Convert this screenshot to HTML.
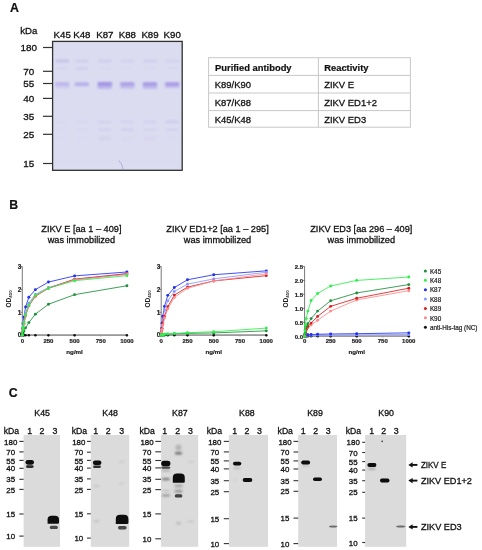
<!DOCTYPE html>
<html><head><meta charset="utf-8"><style>
html,body{margin:0;padding:0;background:#fff;}
body{width:482px;height:550px;overflow:hidden;}
svg{display:block;font-family:"Liberation Sans", sans-serif;filter:blur(0.25px);}
</style></head><body>
<svg width="482" height="550" viewBox="0 0 482 550">
<defs>
<filter id="b1" x="-50%" y="-200%" width="200%" height="500%"><feGaussianBlur stdDeviation="0.9"/></filter>
<filter id="b2" x="-50%" y="-200%" width="200%" height="500%"><feGaussianBlur stdDeviation="1.5"/></filter>
<filter id="b05" x="-50%" y="-200%" width="200%" height="500%"><feGaussianBlur stdDeviation="0.5"/></filter>
</defs>
<text x="10" y="11.8" font-size="12.3" font-weight="700" text-anchor="start" fill="#111" stroke="#111" stroke-width="0.2" >A</text>
<text x="20.3" y="33.6" font-size="9.6" font-weight="400" text-anchor="start" fill="#111" stroke="#111" stroke-width="0.3" >kDa</text>
<text x="28.7" y="51.0" font-size="9.9" font-weight="400" text-anchor="middle" fill="#111" stroke="#111" stroke-width="0.3" >180</text>
<line x1="43" y1="47.5" x2="52.5" y2="47.5" stroke="#333" stroke-width="1.2"/>
<text x="28.7" y="74.8" font-size="9.9" font-weight="400" text-anchor="middle" fill="#111" stroke="#111" stroke-width="0.3" >70</text>
<line x1="43" y1="71.3" x2="52.5" y2="71.3" stroke="#333" stroke-width="1.2"/>
<text x="28.7" y="87.0" font-size="9.9" font-weight="400" text-anchor="middle" fill="#111" stroke="#111" stroke-width="0.3" >55</text>
<line x1="43" y1="83.5" x2="52.5" y2="83.5" stroke="#333" stroke-width="1.2"/>
<text x="28.7" y="101.9" font-size="9.9" font-weight="400" text-anchor="middle" fill="#111" stroke="#111" stroke-width="0.3" >40</text>
<line x1="43" y1="98.4" x2="52.5" y2="98.4" stroke="#333" stroke-width="1.2"/>
<text x="28.7" y="119.8" font-size="9.9" font-weight="400" text-anchor="middle" fill="#111" stroke="#111" stroke-width="0.3" >35</text>
<line x1="43" y1="116.3" x2="52.5" y2="116.3" stroke="#333" stroke-width="1.2"/>
<text x="28.7" y="137.8" font-size="9.9" font-weight="400" text-anchor="middle" fill="#111" stroke="#111" stroke-width="0.3" >25</text>
<line x1="43" y1="134.3" x2="52.5" y2="134.3" stroke="#333" stroke-width="1.2"/>
<text x="28.7" y="167.0" font-size="9.9" font-weight="400" text-anchor="middle" fill="#111" stroke="#111" stroke-width="0.3" >15</text>
<line x1="43" y1="163.5" x2="52.5" y2="163.5" stroke="#333" stroke-width="1.2"/>
<rect x="52.6" y="41.4" width="129.6" height="128.9" fill="#dcdcf1" stroke="#303030" stroke-width="1.3" />
<text x="62.2" y="37.9" font-size="9.7" font-weight="400" text-anchor="middle" fill="#111" stroke="#111" stroke-width="0.3" >K45</text>
<text x="81.8" y="37.9" font-size="9.7" font-weight="400" text-anchor="middle" fill="#111" stroke="#111" stroke-width="0.3" >K48</text>
<text x="104.8" y="37.9" font-size="9.7" font-weight="400" text-anchor="middle" fill="#111" stroke="#111" stroke-width="0.3" >K87</text>
<text x="127.3" y="37.9" font-size="9.7" font-weight="400" text-anchor="middle" fill="#111" stroke="#111" stroke-width="0.3" >K88</text>
<text x="150.0" y="37.9" font-size="9.7" font-weight="400" text-anchor="middle" fill="#111" stroke="#111" stroke-width="0.3" >K89</text>
<text x="172.2" y="37.9" font-size="9.7" font-weight="400" text-anchor="middle" fill="#111" stroke="#111" stroke-width="0.3" >K90</text>
<rect x="55.00" y="82.00" width="14.4" height="6.4" rx="1" fill="#b2a8ea" fill-opacity="0.32000000000000006" filter="url(#b1)"/>
<rect x="55.30" y="82.40" width="13.8" height="3.2" rx="1" fill="#9282de" fill-opacity="0.30000000000000004" filter="url(#b1)"/>
<rect x="74.60" y="82.50" width="14.4" height="4.2" rx="1" fill="#b2a8ea" fill-opacity="0.4" filter="url(#b1)"/>
<rect x="74.90" y="82.40" width="13.8" height="3.2" rx="1" fill="#9282de" fill-opacity="0.375" filter="url(#b1)"/>
<rect x="97.60" y="82.10" width="14.4" height="7.0" rx="1" fill="#b2a8ea" fill-opacity="0.76" filter="url(#b1)"/>
<rect x="97.90" y="82.40" width="13.8" height="3.2" rx="1" fill="#9282de" fill-opacity="0.7124999999999999" filter="url(#b1)"/>
<rect x="120.10" y="82.40" width="14.4" height="6.4" rx="1" fill="#b2a8ea" fill-opacity="0.6000000000000001" filter="url(#b1)"/>
<rect x="120.40" y="82.40" width="13.8" height="3.2" rx="1" fill="#9282de" fill-opacity="0.5625" filter="url(#b1)"/>
<rect x="142.80" y="82.50" width="14.4" height="6.6" rx="1" fill="#b2a8ea" fill-opacity="0.68" filter="url(#b1)"/>
<rect x="143.10" y="82.40" width="13.8" height="3.2" rx="1" fill="#9282de" fill-opacity="0.6375" filter="url(#b1)"/>
<rect x="165.00" y="82.40" width="14.4" height="5.6" rx="1" fill="#b2a8ea" fill-opacity="0.6400000000000001" filter="url(#b1)"/>
<rect x="165.30" y="82.40" width="13.8" height="3.2" rx="1" fill="#9282de" fill-opacity="0.6000000000000001" filter="url(#b1)"/>
<rect x="55.45" y="59.20" width="13.5" height="3.6" rx="1" fill="#bab6e4" fill-opacity="0.6" filter="url(#b1)"/>
<rect x="55.95" y="67.20" width="12.5" height="2.4" rx="1" fill="#bcb8e6" fill-opacity="0.25" filter="url(#b1)"/>
<rect x="75.05" y="59.20" width="13.5" height="3.6" rx="1" fill="#bab6e4" fill-opacity="0.3" filter="url(#b1)"/>
<rect x="75.55" y="67.20" width="12.5" height="2.4" rx="1" fill="#bcb8e6" fill-opacity="0.45" filter="url(#b1)"/>
<rect x="98.05" y="59.20" width="13.5" height="3.6" rx="1" fill="#bab6e4" fill-opacity="0.35" filter="url(#b1)"/>
<rect x="98.55" y="67.20" width="12.5" height="2.4" rx="1" fill="#bcb8e6" fill-opacity="0.15" filter="url(#b1)"/>
<rect x="120.55" y="59.20" width="13.5" height="3.6" rx="1" fill="#bab6e4" fill-opacity="0.25" filter="url(#b1)"/>
<rect x="121.05" y="67.20" width="12.5" height="2.4" rx="1" fill="#bcb8e6" fill-opacity="0.12" filter="url(#b1)"/>
<rect x="143.25" y="59.20" width="13.5" height="3.6" rx="1" fill="#bab6e4" fill-opacity="0.3" filter="url(#b1)"/>
<rect x="143.75" y="67.20" width="12.5" height="2.4" rx="1" fill="#bcb8e6" fill-opacity="0.18" filter="url(#b1)"/>
<rect x="165.45" y="59.20" width="13.5" height="3.6" rx="1" fill="#bab6e4" fill-opacity="0.25" filter="url(#b1)"/>
<rect x="165.95" y="67.20" width="12.5" height="2.4" rx="1" fill="#bcb8e6" fill-opacity="0.2" filter="url(#b1)"/>
<rect x="55.45" y="120.20" width="13.5" height="3.2" rx="1" fill="#bcb8e6" fill-opacity="0.1" filter="url(#b1)"/>
<rect x="55.45" y="128.20" width="13.5" height="2.8" rx="1" fill="#bcb8e6" fill-opacity="0.1" filter="url(#b1)"/>
<rect x="55.95" y="136.00" width="12.5" height="5.0" rx="1" fill="#c4c0e8" fill-opacity="0.1" filter="url(#b2)"/>
<rect x="75.05" y="120.20" width="13.5" height="3.2" rx="1" fill="#bcb8e6" fill-opacity="0.15" filter="url(#b1)"/>
<rect x="75.05" y="128.20" width="13.5" height="2.8" rx="1" fill="#bcb8e6" fill-opacity="0.15" filter="url(#b1)"/>
<rect x="75.55" y="136.00" width="12.5" height="5.0" rx="1" fill="#c4c0e8" fill-opacity="0.08" filter="url(#b2)"/>
<rect x="98.05" y="120.20" width="13.5" height="3.2" rx="1" fill="#bcb8e6" fill-opacity="0.3" filter="url(#b1)"/>
<rect x="98.05" y="128.20" width="13.5" height="2.8" rx="1" fill="#bcb8e6" fill-opacity="0.28" filter="url(#b1)"/>
<rect x="98.55" y="136.00" width="12.5" height="5.0" rx="1" fill="#c4c0e8" fill-opacity="0.3" filter="url(#b2)"/>
<rect x="120.55" y="120.20" width="13.5" height="3.2" rx="1" fill="#bcb8e6" fill-opacity="0.22" filter="url(#b1)"/>
<rect x="120.55" y="128.20" width="13.5" height="2.8" rx="1" fill="#bcb8e6" fill-opacity="0.32" filter="url(#b1)"/>
<rect x="121.05" y="136.00" width="12.5" height="5.0" rx="1" fill="#c4c0e8" fill-opacity="0.12" filter="url(#b2)"/>
<rect x="143.25" y="120.20" width="13.5" height="3.2" rx="1" fill="#bcb8e6" fill-opacity="0.25" filter="url(#b1)"/>
<rect x="143.25" y="128.20" width="13.5" height="2.8" rx="1" fill="#bcb8e6" fill-opacity="0.25" filter="url(#b1)"/>
<rect x="143.75" y="136.00" width="12.5" height="5.0" rx="1" fill="#c4c0e8" fill-opacity="0.2" filter="url(#b2)"/>
<rect x="165.45" y="120.20" width="13.5" height="3.2" rx="1" fill="#bcb8e6" fill-opacity="0.38" filter="url(#b1)"/>
<rect x="165.45" y="128.20" width="13.5" height="2.8" rx="1" fill="#bcb8e6" fill-opacity="0.25" filter="url(#b1)"/>
<rect x="165.95" y="136.00" width="12.5" height="5.0" rx="1" fill="#c4c0e8" fill-opacity="0.08" filter="url(#b2)"/>
<rect x="53.00" y="159.80" width="128" height="1.2" rx="1" fill="#c8c6e8" fill-opacity="0.15" filter="url(#b05)"/>
<path d="M118.8 160.6 Q122 163 123 169" stroke="#7068c0" stroke-width="0.9" fill="none" stroke-opacity="0.45"/>
<rect x="208.6" y="57.7" width="201.79999999999998" height="69.5" fill="none" stroke="#c8c8c8" stroke-width="1" />
<line x1="208.6" y1="75.4" x2="410.4" y2="75.4" stroke="#c8c8c8" stroke-width="1"/>
<line x1="208.6" y1="93.0" x2="410.4" y2="93.0" stroke="#c8c8c8" stroke-width="1"/>
<line x1="208.6" y1="110.6" x2="410.4" y2="110.6" stroke="#c8c8c8" stroke-width="1"/>
<line x1="318.4" y1="57.7" x2="318.4" y2="127.2" stroke="#c8c8c8" stroke-width="1"/>
<text x="215" y="71.3" font-size="9.4" font-weight="700" text-anchor="start" fill="#111" stroke="#111" stroke-width="0.2" >Purified antibody</text>
<text x="324.2" y="71.3" font-size="9.4" font-weight="700" text-anchor="start" fill="#111" stroke="#111" stroke-width="0.2" >Reactivity</text>
<text x="214.8" y="88.10000000000001" font-size="9.45" font-weight="400" text-anchor="start" fill="#111" stroke="#111" stroke-width="0.3" >K89/K90</text>
<text x="324.2" y="88.10000000000001" font-size="9.45" font-weight="400" text-anchor="start" fill="#111" stroke="#111" stroke-width="0.3" >ZIKV E</text>
<text x="214.8" y="105.7" font-size="9.45" font-weight="400" text-anchor="start" fill="#111" stroke="#111" stroke-width="0.3" >K87/K88</text>
<text x="324.2" y="105.7" font-size="9.45" font-weight="400" text-anchor="start" fill="#111" stroke="#111" stroke-width="0.3" >ZIKV ED1+2</text>
<text x="214.8" y="123.3" font-size="9.45" font-weight="400" text-anchor="start" fill="#111" stroke="#111" stroke-width="0.3" >K45/K48</text>
<text x="324.2" y="123.3" font-size="9.45" font-weight="400" text-anchor="start" fill="#111" stroke="#111" stroke-width="0.3" >ZIKV ED3</text>
<text x="9.3" y="208.6" font-size="12.3" font-weight="700" text-anchor="start" fill="#111" stroke="#111" stroke-width="0.2" >B</text>
<text x="81.4" y="231.9" font-size="9.2" font-weight="400" text-anchor="middle" fill="#111" stroke="#111" stroke-width="0.3" >ZIKV E [aa 1 – 409]</text>
<text x="81.4" y="243.2" font-size="9.2" font-weight="400" text-anchor="middle" fill="#111" stroke="#111" stroke-width="0.3" >was immobilized</text>
<text x="217.5" y="231.9" font-size="9.2" font-weight="400" text-anchor="middle" fill="#111" stroke="#111" stroke-width="0.3" >ZIKV ED1+2 [aa 1 – 295]</text>
<text x="217.5" y="243.2" font-size="9.2" font-weight="400" text-anchor="middle" fill="#111" stroke="#111" stroke-width="0.3" >was immobilized</text>
<text x="361.3" y="231.9" font-size="9.2" font-weight="400" text-anchor="middle" fill="#111" stroke="#111" stroke-width="0.3" >ZIKV ED3 [aa 296 – 409]</text>
<text x="361.3" y="243.2" font-size="9.2" font-weight="400" text-anchor="middle" fill="#111" stroke="#111" stroke-width="0.3" >was immobilized</text>
<line x1="22.3" y1="266.5" x2="22.3" y2="335.2" stroke="#777" stroke-width="1"/>
<line x1="22.3" y1="335.2" x2="126.9" y2="335.2" stroke="#888" stroke-width="1.3"/>
<line x1="20.8" y1="335.2" x2="22.3" y2="335.2" stroke="#555" stroke-width="0.8"/>
<text x="21.3" y="337.4" font-size="6.4" font-weight="700" text-anchor="end" fill="#222" stroke="#222" stroke-width="0.2" >0</text>
<line x1="20.8" y1="312.3" x2="22.3" y2="312.3" stroke="#555" stroke-width="0.8"/>
<text x="21.3" y="314.5" font-size="6.4" font-weight="700" text-anchor="end" fill="#222" stroke="#222" stroke-width="0.2" >1</text>
<line x1="20.8" y1="289.4" x2="22.3" y2="289.4" stroke="#555" stroke-width="0.8"/>
<text x="21.3" y="291.59999999999997" font-size="6.4" font-weight="700" text-anchor="end" fill="#222" stroke="#222" stroke-width="0.2" >2</text>
<line x1="20.8" y1="266.5" x2="22.3" y2="266.5" stroke="#555" stroke-width="0.8"/>
<text x="21.3" y="268.7" font-size="6.4" font-weight="700" text-anchor="end" fill="#222" stroke="#222" stroke-width="0.2" >3</text>
<line x1="22.3" y1="335.2" x2="22.3" y2="336.4" stroke="#555" stroke-width="0.8"/>
<text x="22.3" y="343.2" font-size="6" font-weight="700" text-anchor="middle" fill="#222" stroke="#222" stroke-width="0.2" >0</text>
<line x1="48.45" y1="335.2" x2="48.45" y2="336.4" stroke="#555" stroke-width="0.8"/>
<text x="48.45" y="343.2" font-size="6" font-weight="700" text-anchor="middle" fill="#222" stroke="#222" stroke-width="0.2" >250</text>
<line x1="74.60000000000001" y1="335.2" x2="74.60000000000001" y2="336.4" stroke="#555" stroke-width="0.8"/>
<text x="74.60000000000001" y="343.2" font-size="6" font-weight="700" text-anchor="middle" fill="#222" stroke="#222" stroke-width="0.2" >500</text>
<line x1="100.75" y1="335.2" x2="100.75" y2="336.4" stroke="#555" stroke-width="0.8"/>
<text x="100.75" y="343.2" font-size="6" font-weight="700" text-anchor="middle" fill="#222" stroke="#222" stroke-width="0.2" >750</text>
<line x1="126.9" y1="335.2" x2="126.9" y2="336.4" stroke="#555" stroke-width="0.8"/>
<text x="126.9" y="343.2" font-size="6" font-weight="700" text-anchor="middle" fill="#222" stroke="#222" stroke-width="0.2" >1000</text>
<text x="74.60000000000001" y="353.6" font-size="6.2" font-weight="700" text-anchor="middle" fill="#222" stroke="#222" stroke-width="0.2" >ng/ml</text>
<text transform="translate(11.20,299) rotate(-90)" font-size="6.6" font-weight="700" text-anchor="middle" fill="#222">OD<tspan font-size="4.4" dy="1.2">450</tspan></text>
<polyline points="22.30,335.20 22.71,335.20 23.12,335.20 23.93,335.20 25.57,335.20 28.84,335.20 35.38,335.20 48.45,335.20 74.60,335.20 126.90,335.20" fill="none" stroke="#999" stroke-width="1.3"/>
<circle cx="22.30" cy="335.20" r="1.25" fill="#111111"/>
<circle cx="22.71" cy="335.20" r="1.25" fill="#111111"/>
<circle cx="23.12" cy="335.20" r="1.25" fill="#111111"/>
<circle cx="23.93" cy="335.20" r="1.25" fill="#111111"/>
<circle cx="25.57" cy="335.20" r="1.25" fill="#111111"/>
<circle cx="28.84" cy="335.20" r="1.25" fill="#111111"/>
<circle cx="35.38" cy="335.20" r="1.25" fill="#111111"/>
<circle cx="48.45" cy="335.20" r="1.25" fill="#111111"/>
<circle cx="74.60" cy="335.20" r="1.25" fill="#111111"/>
<circle cx="126.90" cy="335.20" r="1.25" fill="#111111"/>
<polyline points="22.30,335.20 22.71,328.33 23.12,323.29 23.93,317.11 25.57,307.03 28.84,297.19 35.38,289.63 48.45,282.07 74.60,275.89 126.90,272.00" fill="none" stroke="#2030f0" stroke-width="0.85"/>
<circle cx="22.30" cy="335.20" r="1.45" fill="#2030f0"/>
<circle cx="22.71" cy="328.33" r="1.45" fill="#2030f0"/>
<circle cx="23.12" cy="323.29" r="1.45" fill="#2030f0"/>
<circle cx="23.93" cy="317.11" r="1.45" fill="#2030f0"/>
<circle cx="25.57" cy="307.03" r="1.45" fill="#2030f0"/>
<circle cx="28.84" cy="297.19" r="1.45" fill="#2030f0"/>
<circle cx="35.38" cy="289.63" r="1.45" fill="#2030f0"/>
<circle cx="48.45" cy="282.07" r="1.45" fill="#2030f0"/>
<circle cx="74.60" cy="275.89" r="1.45" fill="#2030f0"/>
<circle cx="126.90" cy="272.00" r="1.45" fill="#2030f0"/>
<polyline points="22.30,335.20 22.71,330.62 23.12,326.04 23.93,321.46 25.57,313.44 28.84,303.14 35.38,294.44 48.45,287.57 74.60,279.78 126.90,273.37" fill="none" stroke="#8a96ff" stroke-width="0.85"/>
<circle cx="22.30" cy="335.20" r="1.45" fill="#8a96ff"/>
<circle cx="22.71" cy="330.62" r="1.45" fill="#8a96ff"/>
<circle cx="23.12" cy="326.04" r="1.45" fill="#8a96ff"/>
<circle cx="23.93" cy="321.46" r="1.45" fill="#8a96ff"/>
<circle cx="25.57" cy="313.44" r="1.45" fill="#8a96ff"/>
<circle cx="28.84" cy="303.14" r="1.45" fill="#8a96ff"/>
<circle cx="35.38" cy="294.44" r="1.45" fill="#8a96ff"/>
<circle cx="48.45" cy="287.57" r="1.45" fill="#8a96ff"/>
<circle cx="74.60" cy="279.78" r="1.45" fill="#8a96ff"/>
<circle cx="126.90" cy="273.37" r="1.45" fill="#8a96ff"/>
<polyline points="22.30,335.20 22.71,331.76 23.12,328.33 23.93,323.75 25.57,315.74 28.84,305.89 35.38,296.27 48.45,288.25 74.60,279.09 126.90,273.83" fill="none" stroke="#d81e1e" stroke-width="0.85"/>
<circle cx="22.30" cy="335.20" r="1.45" fill="#d81e1e"/>
<circle cx="22.71" cy="331.76" r="1.45" fill="#d81e1e"/>
<circle cx="23.12" cy="328.33" r="1.45" fill="#d81e1e"/>
<circle cx="23.93" cy="323.75" r="1.45" fill="#d81e1e"/>
<circle cx="25.57" cy="315.74" r="1.45" fill="#d81e1e"/>
<circle cx="28.84" cy="305.89" r="1.45" fill="#d81e1e"/>
<circle cx="35.38" cy="296.27" r="1.45" fill="#d81e1e"/>
<circle cx="48.45" cy="288.25" r="1.45" fill="#d81e1e"/>
<circle cx="74.60" cy="279.09" r="1.45" fill="#d81e1e"/>
<circle cx="126.90" cy="273.83" r="1.45" fill="#d81e1e"/>
<polyline points="22.30,335.20 22.71,331.76 23.12,328.33 23.93,323.75 25.57,315.74 28.84,305.43 35.38,295.81 48.45,288.25 74.60,279.78 126.90,274.51" fill="none" stroke="#ff8a8a" stroke-width="0.85"/>
<circle cx="22.30" cy="335.20" r="1.45" fill="#ff8a8a"/>
<circle cx="22.71" cy="331.76" r="1.45" fill="#ff8a8a"/>
<circle cx="23.12" cy="328.33" r="1.45" fill="#ff8a8a"/>
<circle cx="23.93" cy="323.75" r="1.45" fill="#ff8a8a"/>
<circle cx="25.57" cy="315.74" r="1.45" fill="#ff8a8a"/>
<circle cx="28.84" cy="305.43" r="1.45" fill="#ff8a8a"/>
<circle cx="35.38" cy="295.81" r="1.45" fill="#ff8a8a"/>
<circle cx="48.45" cy="288.25" r="1.45" fill="#ff8a8a"/>
<circle cx="74.60" cy="279.78" r="1.45" fill="#ff8a8a"/>
<circle cx="126.90" cy="274.51" r="1.45" fill="#ff8a8a"/>
<polyline points="22.30,335.20 22.71,334.06 23.12,332.91 23.93,331.08 25.57,327.87 28.84,322.60 35.38,314.13 48.45,304.28 74.60,294.67 126.90,285.74" fill="none" stroke="#1e8f3a" stroke-width="0.85"/>
<circle cx="22.30" cy="335.20" r="1.45" fill="#1e8f3a"/>
<circle cx="22.71" cy="334.06" r="1.45" fill="#1e8f3a"/>
<circle cx="23.12" cy="332.91" r="1.45" fill="#1e8f3a"/>
<circle cx="23.93" cy="331.08" r="1.45" fill="#1e8f3a"/>
<circle cx="25.57" cy="327.87" r="1.45" fill="#1e8f3a"/>
<circle cx="28.84" cy="322.60" r="1.45" fill="#1e8f3a"/>
<circle cx="35.38" cy="314.13" r="1.45" fill="#1e8f3a"/>
<circle cx="48.45" cy="304.28" r="1.45" fill="#1e8f3a"/>
<circle cx="74.60" cy="294.67" r="1.45" fill="#1e8f3a"/>
<circle cx="126.90" cy="285.74" r="1.45" fill="#1e8f3a"/>
<polyline points="22.30,335.20 22.71,330.62 23.12,327.19 23.93,322.60 25.57,314.59 28.84,304.97 35.38,295.12 48.45,288.25 74.60,280.70 126.90,275.66" fill="none" stroke="#2cf04c" stroke-width="0.85"/>
<circle cx="22.30" cy="335.20" r="1.45" fill="#2cf04c"/>
<circle cx="22.71" cy="330.62" r="1.45" fill="#2cf04c"/>
<circle cx="23.12" cy="327.19" r="1.45" fill="#2cf04c"/>
<circle cx="23.93" cy="322.60" r="1.45" fill="#2cf04c"/>
<circle cx="25.57" cy="314.59" r="1.45" fill="#2cf04c"/>
<circle cx="28.84" cy="304.97" r="1.45" fill="#2cf04c"/>
<circle cx="35.38" cy="295.12" r="1.45" fill="#2cf04c"/>
<circle cx="48.45" cy="288.25" r="1.45" fill="#2cf04c"/>
<circle cx="74.60" cy="280.70" r="1.45" fill="#2cf04c"/>
<circle cx="126.90" cy="275.66" r="1.45" fill="#2cf04c"/>
<line x1="161.2" y1="266.5" x2="161.2" y2="335.2" stroke="#777" stroke-width="1"/>
<line x1="161.2" y1="335.2" x2="266.3" y2="335.2" stroke="#888" stroke-width="1.3"/>
<line x1="159.7" y1="335.2" x2="161.2" y2="335.2" stroke="#555" stroke-width="0.8"/>
<text x="160.2" y="337.4" font-size="6.4" font-weight="700" text-anchor="end" fill="#222" stroke="#222" stroke-width="0.2" >0</text>
<line x1="159.7" y1="312.3" x2="161.2" y2="312.3" stroke="#555" stroke-width="0.8"/>
<text x="160.2" y="314.5" font-size="6.4" font-weight="700" text-anchor="end" fill="#222" stroke="#222" stroke-width="0.2" >1</text>
<line x1="159.7" y1="289.4" x2="161.2" y2="289.4" stroke="#555" stroke-width="0.8"/>
<text x="160.2" y="291.59999999999997" font-size="6.4" font-weight="700" text-anchor="end" fill="#222" stroke="#222" stroke-width="0.2" >2</text>
<line x1="159.7" y1="266.5" x2="161.2" y2="266.5" stroke="#555" stroke-width="0.8"/>
<text x="160.2" y="268.7" font-size="6.4" font-weight="700" text-anchor="end" fill="#222" stroke="#222" stroke-width="0.2" >3</text>
<line x1="161.2" y1="335.2" x2="161.2" y2="336.4" stroke="#555" stroke-width="0.8"/>
<text x="161.2" y="343.2" font-size="6" font-weight="700" text-anchor="middle" fill="#222" stroke="#222" stroke-width="0.2" >0</text>
<line x1="187.475" y1="335.2" x2="187.475" y2="336.4" stroke="#555" stroke-width="0.8"/>
<text x="187.475" y="343.2" font-size="6" font-weight="700" text-anchor="middle" fill="#222" stroke="#222" stroke-width="0.2" >250</text>
<line x1="213.75" y1="335.2" x2="213.75" y2="336.4" stroke="#555" stroke-width="0.8"/>
<text x="213.75" y="343.2" font-size="6" font-weight="700" text-anchor="middle" fill="#222" stroke="#222" stroke-width="0.2" >500</text>
<line x1="240.025" y1="335.2" x2="240.025" y2="336.4" stroke="#555" stroke-width="0.8"/>
<text x="240.025" y="343.2" font-size="6" font-weight="700" text-anchor="middle" fill="#222" stroke="#222" stroke-width="0.2" >750</text>
<line x1="266.3" y1="335.2" x2="266.3" y2="336.4" stroke="#555" stroke-width="0.8"/>
<text x="266.3" y="343.2" font-size="6" font-weight="700" text-anchor="middle" fill="#222" stroke="#222" stroke-width="0.2" >1000</text>
<text x="213.75" y="353.6" font-size="6.2" font-weight="700" text-anchor="middle" fill="#222" stroke="#222" stroke-width="0.2" >ng/ml</text>
<text transform="translate(150.10,299) rotate(-90)" font-size="6.6" font-weight="700" text-anchor="middle" fill="#222">OD<tspan font-size="4.4" dy="1.2">450</tspan></text>
<polyline points="161.20,335.20 161.61,335.20 162.02,335.20 162.84,335.20 164.48,335.20 167.77,335.20 174.34,335.20 187.47,335.20 213.75,335.20 266.30,335.20" fill="none" stroke="#999" stroke-width="1.3"/>
<circle cx="161.20" cy="335.20" r="1.25" fill="#111111"/>
<circle cx="161.61" cy="335.20" r="1.25" fill="#111111"/>
<circle cx="162.02" cy="335.20" r="1.25" fill="#111111"/>
<circle cx="162.84" cy="335.20" r="1.25" fill="#111111"/>
<circle cx="164.48" cy="335.20" r="1.25" fill="#111111"/>
<circle cx="167.77" cy="335.20" r="1.25" fill="#111111"/>
<circle cx="174.34" cy="335.20" r="1.25" fill="#111111"/>
<circle cx="187.47" cy="335.20" r="1.25" fill="#111111"/>
<circle cx="213.75" cy="335.20" r="1.25" fill="#111111"/>
<circle cx="266.30" cy="335.20" r="1.25" fill="#111111"/>
<polyline points="161.20,335.20 161.61,328.33 162.02,323.29 162.84,316.19 164.48,306.35 167.77,295.35 174.34,287.57 187.47,279.78 213.75,274.74 266.30,270.85" fill="none" stroke="#2030f0" stroke-width="0.85"/>
<circle cx="161.20" cy="335.20" r="1.45" fill="#2030f0"/>
<circle cx="161.61" cy="328.33" r="1.45" fill="#2030f0"/>
<circle cx="162.02" cy="323.29" r="1.45" fill="#2030f0"/>
<circle cx="162.84" cy="316.19" r="1.45" fill="#2030f0"/>
<circle cx="164.48" cy="306.35" r="1.45" fill="#2030f0"/>
<circle cx="167.77" cy="295.35" r="1.45" fill="#2030f0"/>
<circle cx="174.34" cy="287.57" r="1.45" fill="#2030f0"/>
<circle cx="187.47" cy="279.78" r="1.45" fill="#2030f0"/>
<circle cx="213.75" cy="274.74" r="1.45" fill="#2030f0"/>
<circle cx="266.30" cy="270.85" r="1.45" fill="#2030f0"/>
<polyline points="161.20,335.20 161.61,330.62 162.02,326.04 162.84,320.31 164.48,310.01 167.77,300.85 174.34,291.46 187.47,284.13 213.75,278.87 266.30,272.23" fill="none" stroke="#8a96ff" stroke-width="0.85"/>
<circle cx="161.20" cy="335.20" r="1.45" fill="#8a96ff"/>
<circle cx="161.61" cy="330.62" r="1.45" fill="#8a96ff"/>
<circle cx="162.02" cy="326.04" r="1.45" fill="#8a96ff"/>
<circle cx="162.84" cy="320.31" r="1.45" fill="#8a96ff"/>
<circle cx="164.48" cy="310.01" r="1.45" fill="#8a96ff"/>
<circle cx="167.77" cy="300.85" r="1.45" fill="#8a96ff"/>
<circle cx="174.34" cy="291.46" r="1.45" fill="#8a96ff"/>
<circle cx="187.47" cy="284.13" r="1.45" fill="#8a96ff"/>
<circle cx="213.75" cy="278.87" r="1.45" fill="#8a96ff"/>
<circle cx="266.30" cy="272.23" r="1.45" fill="#8a96ff"/>
<polyline points="161.20,335.20 161.61,331.76 162.02,328.33 162.84,322.83 164.48,316.19 167.77,306.80 174.34,295.12 187.47,287.11 213.75,280.93 266.30,275.66" fill="none" stroke="#d81e1e" stroke-width="0.85"/>
<circle cx="161.20" cy="335.20" r="1.45" fill="#d81e1e"/>
<circle cx="161.61" cy="331.76" r="1.45" fill="#d81e1e"/>
<circle cx="162.02" cy="328.33" r="1.45" fill="#d81e1e"/>
<circle cx="162.84" cy="322.83" r="1.45" fill="#d81e1e"/>
<circle cx="164.48" cy="316.19" r="1.45" fill="#d81e1e"/>
<circle cx="167.77" cy="306.80" r="1.45" fill="#d81e1e"/>
<circle cx="174.34" cy="295.12" r="1.45" fill="#d81e1e"/>
<circle cx="187.47" cy="287.11" r="1.45" fill="#d81e1e"/>
<circle cx="213.75" cy="280.93" r="1.45" fill="#d81e1e"/>
<circle cx="266.30" cy="275.66" r="1.45" fill="#d81e1e"/>
<polyline points="161.20,335.20 161.61,332.45 162.02,329.47 162.84,324.89 164.48,318.02 167.77,308.87 174.34,297.41 187.47,288.25 213.75,280.93 266.30,273.83" fill="none" stroke="#ff8a8a" stroke-width="0.85"/>
<circle cx="161.20" cy="335.20" r="1.45" fill="#ff8a8a"/>
<circle cx="161.61" cy="332.45" r="1.45" fill="#ff8a8a"/>
<circle cx="162.02" cy="329.47" r="1.45" fill="#ff8a8a"/>
<circle cx="162.84" cy="324.89" r="1.45" fill="#ff8a8a"/>
<circle cx="164.48" cy="318.02" r="1.45" fill="#ff8a8a"/>
<circle cx="167.77" cy="308.87" r="1.45" fill="#ff8a8a"/>
<circle cx="174.34" cy="297.41" r="1.45" fill="#ff8a8a"/>
<circle cx="187.47" cy="288.25" r="1.45" fill="#ff8a8a"/>
<circle cx="213.75" cy="280.93" r="1.45" fill="#ff8a8a"/>
<circle cx="266.30" cy="273.83" r="1.45" fill="#ff8a8a"/>
<polyline points="161.20,335.20 161.61,335.20 162.02,334.97 162.84,334.74 164.48,334.51 167.77,334.28 174.34,333.83 187.47,333.37 213.75,332.91 266.30,330.85" fill="none" stroke="#1e8f3a" stroke-width="0.85"/>
<circle cx="161.20" cy="335.20" r="1.45" fill="#1e8f3a"/>
<circle cx="161.61" cy="335.20" r="1.45" fill="#1e8f3a"/>
<circle cx="162.02" cy="334.97" r="1.45" fill="#1e8f3a"/>
<circle cx="162.84" cy="334.74" r="1.45" fill="#1e8f3a"/>
<circle cx="164.48" cy="334.51" r="1.45" fill="#1e8f3a"/>
<circle cx="167.77" cy="334.28" r="1.45" fill="#1e8f3a"/>
<circle cx="174.34" cy="333.83" r="1.45" fill="#1e8f3a"/>
<circle cx="187.47" cy="333.37" r="1.45" fill="#1e8f3a"/>
<circle cx="213.75" cy="332.91" r="1.45" fill="#1e8f3a"/>
<circle cx="266.30" cy="330.85" r="1.45" fill="#1e8f3a"/>
<polyline points="161.20,335.20 161.61,335.20 162.02,334.97 162.84,334.74 164.48,334.28 167.77,333.83 174.34,333.37 187.47,332.68 213.75,331.76 266.30,328.10" fill="none" stroke="#2cf04c" stroke-width="0.85"/>
<circle cx="161.20" cy="335.20" r="1.45" fill="#2cf04c"/>
<circle cx="161.61" cy="335.20" r="1.45" fill="#2cf04c"/>
<circle cx="162.02" cy="334.97" r="1.45" fill="#2cf04c"/>
<circle cx="162.84" cy="334.74" r="1.45" fill="#2cf04c"/>
<circle cx="164.48" cy="334.28" r="1.45" fill="#2cf04c"/>
<circle cx="167.77" cy="333.83" r="1.45" fill="#2cf04c"/>
<circle cx="174.34" cy="333.37" r="1.45" fill="#2cf04c"/>
<circle cx="187.47" cy="332.68" r="1.45" fill="#2cf04c"/>
<circle cx="213.75" cy="331.76" r="1.45" fill="#2cf04c"/>
<circle cx="266.30" cy="328.10" r="1.45" fill="#2cf04c"/>
<line x1="304.6" y1="266.45" x2="304.6" y2="336.2" stroke="#777" stroke-width="1"/>
<line x1="304.6" y1="336.2" x2="408.8" y2="336.2" stroke="#888" stroke-width="1.3"/>
<line x1="303.1" y1="336.2" x2="304.6" y2="336.2" stroke="#555" stroke-width="0.8"/>
<text x="303.0" y="338.7" font-size="6.0" font-weight="700" text-anchor="end" fill="#222" stroke="#222" stroke-width="0.2" >0.0</text>
<line x1="303.1" y1="322.25" x2="304.6" y2="322.25" stroke="#555" stroke-width="0.8"/>
<text x="303.0" y="324.75" font-size="6.0" font-weight="700" text-anchor="end" fill="#222" stroke="#222" stroke-width="0.2" >0.5</text>
<line x1="303.1" y1="308.3" x2="304.6" y2="308.3" stroke="#555" stroke-width="0.8"/>
<text x="303.0" y="310.8" font-size="6.0" font-weight="700" text-anchor="end" fill="#222" stroke="#222" stroke-width="0.2" >1.0</text>
<line x1="303.1" y1="294.35" x2="304.6" y2="294.35" stroke="#555" stroke-width="0.8"/>
<text x="303.0" y="296.85" font-size="6.0" font-weight="700" text-anchor="end" fill="#222" stroke="#222" stroke-width="0.2" >1.5</text>
<line x1="303.1" y1="280.4" x2="304.6" y2="280.4" stroke="#555" stroke-width="0.8"/>
<text x="303.0" y="282.9" font-size="6.0" font-weight="700" text-anchor="end" fill="#222" stroke="#222" stroke-width="0.2" >2.0</text>
<line x1="303.1" y1="266.45" x2="304.6" y2="266.45" stroke="#555" stroke-width="0.8"/>
<text x="303.0" y="268.95" font-size="6.0" font-weight="700" text-anchor="end" fill="#222" stroke="#222" stroke-width="0.2" >2.5</text>
<line x1="304.6" y1="336.2" x2="304.6" y2="337.4" stroke="#555" stroke-width="0.8"/>
<text x="304.6" y="343.2" font-size="6" font-weight="700" text-anchor="middle" fill="#222" stroke="#222" stroke-width="0.2" >0</text>
<line x1="330.65000000000003" y1="336.2" x2="330.65000000000003" y2="337.4" stroke="#555" stroke-width="0.8"/>
<text x="330.65000000000003" y="343.2" font-size="6" font-weight="700" text-anchor="middle" fill="#222" stroke="#222" stroke-width="0.2" >250</text>
<line x1="356.70000000000005" y1="336.2" x2="356.70000000000005" y2="337.4" stroke="#555" stroke-width="0.8"/>
<text x="356.70000000000005" y="343.2" font-size="6" font-weight="700" text-anchor="middle" fill="#222" stroke="#222" stroke-width="0.2" >500</text>
<line x1="382.75" y1="336.2" x2="382.75" y2="337.4" stroke="#555" stroke-width="0.8"/>
<text x="382.75" y="343.2" font-size="6" font-weight="700" text-anchor="middle" fill="#222" stroke="#222" stroke-width="0.2" >750</text>
<line x1="408.8" y1="336.2" x2="408.8" y2="337.4" stroke="#555" stroke-width="0.8"/>
<text x="408.8" y="343.2" font-size="6" font-weight="700" text-anchor="middle" fill="#222" stroke="#222" stroke-width="0.2" >1000</text>
<text x="356.70000000000005" y="353.6" font-size="6.2" font-weight="700" text-anchor="middle" fill="#222" stroke="#222" stroke-width="0.2" >ng/ml</text>
<text transform="translate(288.20,299) rotate(-90)" font-size="6.6" font-weight="700" text-anchor="middle" fill="#222">OD<tspan font-size="4.4" dy="1.2">450</tspan></text>
<polyline points="304.60,336.20 305.01,336.20 305.41,336.20 306.23,336.20 307.86,336.20 311.11,336.20 317.62,336.20 330.65,336.20 356.70,336.20 408.80,336.20" fill="none" stroke="#999" stroke-width="1.3"/>
<circle cx="304.60" cy="336.20" r="1.25" fill="#111111"/>
<circle cx="305.01" cy="336.20" r="1.25" fill="#111111"/>
<circle cx="305.41" cy="336.20" r="1.25" fill="#111111"/>
<circle cx="306.23" cy="336.20" r="1.25" fill="#111111"/>
<circle cx="307.86" cy="336.20" r="1.25" fill="#111111"/>
<circle cx="311.11" cy="336.20" r="1.25" fill="#111111"/>
<circle cx="317.62" cy="336.20" r="1.25" fill="#111111"/>
<circle cx="330.65" cy="336.20" r="1.25" fill="#111111"/>
<circle cx="356.70" cy="336.20" r="1.25" fill="#111111"/>
<circle cx="408.80" cy="336.20" r="1.25" fill="#111111"/>
<polyline points="304.60,335.64 305.01,335.64 305.41,335.64 306.23,335.36 307.86,335.36 311.11,335.36 317.62,335.08 330.65,335.08 356.70,334.81 408.80,334.53" fill="none" stroke="#8a96ff" stroke-width="0.85"/>
<circle cx="304.60" cy="335.64" r="1.45" fill="#8a96ff"/>
<circle cx="305.01" cy="335.64" r="1.45" fill="#8a96ff"/>
<circle cx="305.41" cy="335.64" r="1.45" fill="#8a96ff"/>
<circle cx="306.23" cy="335.36" r="1.45" fill="#8a96ff"/>
<circle cx="307.86" cy="335.36" r="1.45" fill="#8a96ff"/>
<circle cx="311.11" cy="335.36" r="1.45" fill="#8a96ff"/>
<circle cx="317.62" cy="335.08" r="1.45" fill="#8a96ff"/>
<circle cx="330.65" cy="335.08" r="1.45" fill="#8a96ff"/>
<circle cx="356.70" cy="334.81" r="1.45" fill="#8a96ff"/>
<circle cx="408.80" cy="334.53" r="1.45" fill="#8a96ff"/>
<polyline points="304.60,335.36 305.01,335.08 305.41,335.08 306.23,334.81 307.86,334.81 311.11,334.53 317.62,334.25 330.65,333.97 356.70,333.69 408.80,332.85" fill="none" stroke="#2030f0" stroke-width="0.85"/>
<circle cx="304.60" cy="335.36" r="1.45" fill="#2030f0"/>
<circle cx="305.01" cy="335.08" r="1.45" fill="#2030f0"/>
<circle cx="305.41" cy="335.08" r="1.45" fill="#2030f0"/>
<circle cx="306.23" cy="334.81" r="1.45" fill="#2030f0"/>
<circle cx="307.86" cy="334.81" r="1.45" fill="#2030f0"/>
<circle cx="311.11" cy="334.53" r="1.45" fill="#2030f0"/>
<circle cx="317.62" cy="334.25" r="1.45" fill="#2030f0"/>
<circle cx="330.65" cy="333.97" r="1.45" fill="#2030f0"/>
<circle cx="356.70" cy="333.69" r="1.45" fill="#2030f0"/>
<circle cx="408.80" cy="332.85" r="1.45" fill="#2030f0"/>
<polyline points="304.60,336.20 305.01,334.81 305.41,333.41 306.23,330.62 307.86,327.83 311.11,325.04 317.62,320.30 330.65,311.09 356.70,299.93 408.80,290.72" fill="none" stroke="#ff8a8a" stroke-width="0.85"/>
<circle cx="304.60" cy="336.20" r="1.45" fill="#ff8a8a"/>
<circle cx="305.01" cy="334.81" r="1.45" fill="#ff8a8a"/>
<circle cx="305.41" cy="333.41" r="1.45" fill="#ff8a8a"/>
<circle cx="306.23" cy="330.62" r="1.45" fill="#ff8a8a"/>
<circle cx="307.86" cy="327.83" r="1.45" fill="#ff8a8a"/>
<circle cx="311.11" cy="325.04" r="1.45" fill="#ff8a8a"/>
<circle cx="317.62" cy="320.30" r="1.45" fill="#ff8a8a"/>
<circle cx="330.65" cy="311.09" r="1.45" fill="#ff8a8a"/>
<circle cx="356.70" cy="299.93" r="1.45" fill="#ff8a8a"/>
<circle cx="408.80" cy="290.72" r="1.45" fill="#ff8a8a"/>
<polyline points="304.60,336.20 305.01,334.53 305.41,332.85 306.23,329.22 307.86,326.44 311.11,323.09 317.62,316.39 330.65,306.35 356.70,298.26 408.80,288.21" fill="none" stroke="#d81e1e" stroke-width="0.85"/>
<circle cx="304.60" cy="336.20" r="1.45" fill="#d81e1e"/>
<circle cx="305.01" cy="334.53" r="1.45" fill="#d81e1e"/>
<circle cx="305.41" cy="332.85" r="1.45" fill="#d81e1e"/>
<circle cx="306.23" cy="329.22" r="1.45" fill="#d81e1e"/>
<circle cx="307.86" cy="326.44" r="1.45" fill="#d81e1e"/>
<circle cx="311.11" cy="323.09" r="1.45" fill="#d81e1e"/>
<circle cx="317.62" cy="316.39" r="1.45" fill="#d81e1e"/>
<circle cx="330.65" cy="306.35" r="1.45" fill="#d81e1e"/>
<circle cx="356.70" cy="298.26" r="1.45" fill="#d81e1e"/>
<circle cx="408.80" cy="288.21" r="1.45" fill="#d81e1e"/>
<polyline points="304.60,336.20 305.01,333.41 305.41,330.62 306.23,326.44 307.86,323.64 311.11,318.62 317.62,311.09 330.65,300.77 356.70,292.95 408.80,284.58" fill="none" stroke="#1e8f3a" stroke-width="0.85"/>
<circle cx="304.60" cy="336.20" r="1.45" fill="#1e8f3a"/>
<circle cx="305.01" cy="333.41" r="1.45" fill="#1e8f3a"/>
<circle cx="305.41" cy="330.62" r="1.45" fill="#1e8f3a"/>
<circle cx="306.23" cy="326.44" r="1.45" fill="#1e8f3a"/>
<circle cx="307.86" cy="323.64" r="1.45" fill="#1e8f3a"/>
<circle cx="311.11" cy="318.62" r="1.45" fill="#1e8f3a"/>
<circle cx="317.62" cy="311.09" r="1.45" fill="#1e8f3a"/>
<circle cx="330.65" cy="300.77" r="1.45" fill="#1e8f3a"/>
<circle cx="356.70" cy="292.95" r="1.45" fill="#1e8f3a"/>
<circle cx="408.80" cy="284.58" r="1.45" fill="#1e8f3a"/>
<polyline points="304.60,336.20 305.01,330.62 305.41,325.04 306.23,318.62 307.86,311.09 311.11,300.49 317.62,293.51 330.65,285.98 356.70,280.40 408.80,277.05" fill="none" stroke="#2cf04c" stroke-width="0.85"/>
<circle cx="304.60" cy="336.20" r="1.45" fill="#2cf04c"/>
<circle cx="305.01" cy="330.62" r="1.45" fill="#2cf04c"/>
<circle cx="305.41" cy="325.04" r="1.45" fill="#2cf04c"/>
<circle cx="306.23" cy="318.62" r="1.45" fill="#2cf04c"/>
<circle cx="307.86" cy="311.09" r="1.45" fill="#2cf04c"/>
<circle cx="311.11" cy="300.49" r="1.45" fill="#2cf04c"/>
<circle cx="317.62" cy="293.51" r="1.45" fill="#2cf04c"/>
<circle cx="330.65" cy="285.98" r="1.45" fill="#2cf04c"/>
<circle cx="356.70" cy="280.40" r="1.45" fill="#2cf04c"/>
<circle cx="408.80" cy="277.05" r="1.45" fill="#2cf04c"/>
<circle cx="425.4" cy="270.90" r="1.5" fill="#1e8f3a"/>
<text x="429.9" y="273.59999999999997" font-size="6.35" font-weight="400" text-anchor="start" fill="#222" stroke="#222" stroke-width="0.2" >K45</text>
<circle cx="425.4" cy="280.28" r="1.5" fill="#2cf04c"/>
<text x="429.9" y="282.97999999999996" font-size="6.35" font-weight="400" text-anchor="start" fill="#222" stroke="#222" stroke-width="0.2" >K48</text>
<circle cx="425.4" cy="289.66" r="1.5" fill="#2030f0"/>
<text x="429.9" y="292.35999999999996" font-size="6.35" font-weight="400" text-anchor="start" fill="#222" stroke="#222" stroke-width="0.2" >K87</text>
<circle cx="425.4" cy="299.04" r="1.5" fill="#8a96ff"/>
<text x="429.9" y="301.73999999999995" font-size="6.35" font-weight="400" text-anchor="start" fill="#222" stroke="#222" stroke-width="0.2" >K88</text>
<circle cx="425.4" cy="308.42" r="1.5" fill="#d81e1e"/>
<text x="429.9" y="311.11999999999995" font-size="6.35" font-weight="400" text-anchor="start" fill="#222" stroke="#222" stroke-width="0.2" >K89</text>
<circle cx="425.4" cy="317.80" r="1.5" fill="#ff8a8a"/>
<text x="429.9" y="320.5" font-size="6.35" font-weight="400" text-anchor="start" fill="#222" stroke="#222" stroke-width="0.2" >K90</text>
<circle cx="425.4" cy="327.18" r="1.5" fill="#111111"/>
<text x="429.9" y="329.88" font-size="6.35" font-weight="400" text-anchor="start" fill="#222" stroke="#222" stroke-width="0.2" >anti-His-tag (NC)</text>
<text x="8.8" y="397.3" font-size="12.3" font-weight="700" text-anchor="start" fill="#111" stroke="#111" stroke-width="0.2" >C</text>
<rect x="23.6" y="435.0" width="36.4" height="111.8" fill="#dbdbdb" stroke="none" stroke-width="1" />
<text x="42.2" y="415.6" font-size="8.8" font-weight="400" text-anchor="middle" fill="#111" stroke="#111" stroke-width="0.3" >K45</text>
<text x="3.7" y="433.5" font-size="8.6" font-weight="400" text-anchor="start" fill="#111" stroke="#111" stroke-width="0.3" >kDa</text>
<text x="29.7" y="434.2" font-size="8.8" font-weight="400" text-anchor="middle" fill="#111" stroke="#111" stroke-width="0.3" >1</text>
<text x="42.0" y="434.2" font-size="8.8" font-weight="400" text-anchor="middle" fill="#111" stroke="#111" stroke-width="0.3" >2</text>
<text x="55.0" y="434.2" font-size="8.8" font-weight="400" text-anchor="middle" fill="#111" stroke="#111" stroke-width="0.3" >3</text>
<text x="10.7" y="444.5" font-size="7.9" font-weight="400" text-anchor="middle" fill="#111" stroke="#111" stroke-width="0.3" >180</text>
<line x1="19.3" y1="441.4" x2="23.6" y2="441.4" stroke="#333" stroke-width="1.1"/>
<text x="10.7" y="455.0" font-size="7.9" font-weight="400" text-anchor="middle" fill="#111" stroke="#111" stroke-width="0.3" >70</text>
<line x1="19.3" y1="451.9" x2="23.6" y2="451.9" stroke="#333" stroke-width="1.1"/>
<text x="10.7" y="463.5" font-size="7.9" font-weight="400" text-anchor="middle" fill="#111" stroke="#111" stroke-width="0.3" >55</text>
<line x1="19.3" y1="460.4" x2="23.6" y2="460.4" stroke="#333" stroke-width="1.1"/>
<text x="10.7" y="471.40000000000003" font-size="7.9" font-weight="400" text-anchor="middle" fill="#111" stroke="#111" stroke-width="0.3" >40</text>
<line x1="19.3" y1="468.3" x2="23.6" y2="468.3" stroke="#333" stroke-width="1.1"/>
<text x="10.7" y="482.40000000000003" font-size="7.9" font-weight="400" text-anchor="middle" fill="#111" stroke="#111" stroke-width="0.3" >35</text>
<line x1="19.3" y1="479.3" x2="23.6" y2="479.3" stroke="#333" stroke-width="1.1"/>
<text x="10.7" y="492.5" font-size="7.9" font-weight="400" text-anchor="middle" fill="#111" stroke="#111" stroke-width="0.3" >25</text>
<line x1="19.3" y1="489.4" x2="23.6" y2="489.4" stroke="#333" stroke-width="1.1"/>
<text x="10.7" y="517.1" font-size="7.9" font-weight="400" text-anchor="middle" fill="#111" stroke="#111" stroke-width="0.3" >15</text>
<line x1="19.3" y1="514.0" x2="23.6" y2="514.0" stroke="#333" stroke-width="1.1"/>
<text x="10.7" y="539.2" font-size="7.9" font-weight="400" text-anchor="middle" fill="#111" stroke="#111" stroke-width="0.3" >10</text>
<line x1="19.3" y1="536.1" x2="23.6" y2="536.1" stroke="#333" stroke-width="1.1"/>
<rect x="90.8" y="435.0" width="38.39999999999999" height="111.8" fill="#dbdbdb" stroke="none" stroke-width="1" />
<text x="110.1" y="415.6" font-size="8.8" font-weight="400" text-anchor="middle" fill="#111" stroke="#111" stroke-width="0.3" >K48</text>
<text x="71.8" y="433.5" font-size="8.6" font-weight="400" text-anchor="start" fill="#111" stroke="#111" stroke-width="0.3" >kDa</text>
<text x="95.8" y="434.2" font-size="8.8" font-weight="400" text-anchor="middle" fill="#111" stroke="#111" stroke-width="0.3" >1</text>
<text x="108.3" y="434.2" font-size="8.8" font-weight="400" text-anchor="middle" fill="#111" stroke="#111" stroke-width="0.3" >2</text>
<text x="121.6" y="434.2" font-size="8.8" font-weight="400" text-anchor="middle" fill="#111" stroke="#111" stroke-width="0.3" >3</text>
<text x="78.8" y="444.5" font-size="7.9" font-weight="400" text-anchor="middle" fill="#111" stroke="#111" stroke-width="0.3" >180</text>
<line x1="87.0" y1="441.4" x2="90.8" y2="441.4" stroke="#333" stroke-width="1.1"/>
<text x="78.8" y="455.3" font-size="7.9" font-weight="400" text-anchor="middle" fill="#111" stroke="#111" stroke-width="0.3" >70</text>
<line x1="87.0" y1="452.2" x2="90.8" y2="452.2" stroke="#333" stroke-width="1.1"/>
<text x="78.8" y="463.5" font-size="7.9" font-weight="400" text-anchor="middle" fill="#111" stroke="#111" stroke-width="0.3" >55</text>
<line x1="87.0" y1="460.4" x2="90.8" y2="460.4" stroke="#333" stroke-width="1.1"/>
<text x="78.8" y="471.20000000000005" font-size="7.9" font-weight="400" text-anchor="middle" fill="#111" stroke="#111" stroke-width="0.3" >40</text>
<line x1="87.0" y1="468.1" x2="90.8" y2="468.1" stroke="#333" stroke-width="1.1"/>
<text x="78.8" y="482.0" font-size="7.9" font-weight="400" text-anchor="middle" fill="#111" stroke="#111" stroke-width="0.3" >35</text>
<line x1="87.0" y1="478.9" x2="90.8" y2="478.9" stroke="#333" stroke-width="1.1"/>
<text x="78.8" y="492.5" font-size="7.9" font-weight="400" text-anchor="middle" fill="#111" stroke="#111" stroke-width="0.3" >25</text>
<line x1="87.0" y1="489.4" x2="90.8" y2="489.4" stroke="#333" stroke-width="1.1"/>
<text x="78.8" y="516.9" font-size="7.9" font-weight="400" text-anchor="middle" fill="#111" stroke="#111" stroke-width="0.3" >15</text>
<line x1="87.0" y1="513.8" x2="90.8" y2="513.8" stroke="#333" stroke-width="1.1"/>
<text x="78.8" y="541.2" font-size="7.9" font-weight="400" text-anchor="middle" fill="#111" stroke="#111" stroke-width="0.3" >10</text>
<line x1="87.0" y1="538.1" x2="90.8" y2="538.1" stroke="#333" stroke-width="1.1"/>
<rect x="161.0" y="435.0" width="37.19999999999999" height="111.8" fill="#dbdbdb" stroke="none" stroke-width="1" />
<text x="179.9" y="415.6" font-size="8.8" font-weight="400" text-anchor="middle" fill="#111" stroke="#111" stroke-width="0.3" >K87</text>
<text x="139.5" y="433.5" font-size="8.6" font-weight="400" text-anchor="start" fill="#111" stroke="#111" stroke-width="0.3" >kDa</text>
<text x="164.6" y="434.2" font-size="8.8" font-weight="400" text-anchor="middle" fill="#111" stroke="#111" stroke-width="0.3" >1</text>
<text x="177.7" y="434.2" font-size="8.8" font-weight="400" text-anchor="middle" fill="#111" stroke="#111" stroke-width="0.3" >2</text>
<text x="190.5" y="434.2" font-size="8.8" font-weight="400" text-anchor="middle" fill="#111" stroke="#111" stroke-width="0.3" >3</text>
<text x="147.0" y="444.5" font-size="7.9" font-weight="400" text-anchor="middle" fill="#111" stroke="#111" stroke-width="0.3" >180</text>
<line x1="155.3" y1="441.4" x2="161.0" y2="441.4" stroke="#333" stroke-width="1.1"/>
<text x="147.0" y="454.90000000000003" font-size="7.9" font-weight="400" text-anchor="middle" fill="#111" stroke="#111" stroke-width="0.3" >70</text>
<line x1="155.3" y1="451.8" x2="161.0" y2="451.8" stroke="#333" stroke-width="1.1"/>
<text x="147.0" y="463.6" font-size="7.9" font-weight="400" text-anchor="middle" fill="#111" stroke="#111" stroke-width="0.3" >55</text>
<line x1="155.3" y1="460.5" x2="161.0" y2="460.5" stroke="#333" stroke-width="1.1"/>
<text x="147.0" y="471.0" font-size="7.9" font-weight="400" text-anchor="middle" fill="#111" stroke="#111" stroke-width="0.3" >40</text>
<line x1="155.3" y1="467.9" x2="161.0" y2="467.9" stroke="#333" stroke-width="1.1"/>
<text x="147.0" y="482.40000000000003" font-size="7.9" font-weight="400" text-anchor="middle" fill="#111" stroke="#111" stroke-width="0.3" >35</text>
<line x1="155.3" y1="479.3" x2="161.0" y2="479.3" stroke="#333" stroke-width="1.1"/>
<text x="147.0" y="492.70000000000005" font-size="7.9" font-weight="400" text-anchor="middle" fill="#111" stroke="#111" stroke-width="0.3" >25</text>
<line x1="155.3" y1="489.6" x2="161.0" y2="489.6" stroke="#333" stroke-width="1.1"/>
<text x="147.0" y="517.0" font-size="7.9" font-weight="400" text-anchor="middle" fill="#111" stroke="#111" stroke-width="0.3" >15</text>
<line x1="155.3" y1="513.9" x2="161.0" y2="513.9" stroke="#333" stroke-width="1.1"/>
<text x="147.0" y="541.9" font-size="7.9" font-weight="400" text-anchor="middle" fill="#111" stroke="#111" stroke-width="0.3" >10</text>
<line x1="155.3" y1="538.8" x2="161.0" y2="538.8" stroke="#333" stroke-width="1.1"/>
<rect x="228.9" y="435.0" width="39.099999999999994" height="111.8" fill="#dbdbdb" stroke="none" stroke-width="1" />
<text x="246.9" y="415.6" font-size="8.8" font-weight="400" text-anchor="middle" fill="#111" stroke="#111" stroke-width="0.3" >K88</text>
<text x="206.8" y="433.5" font-size="8.6" font-weight="400" text-anchor="start" fill="#111" stroke="#111" stroke-width="0.3" >kDa</text>
<text x="234.6" y="434.2" font-size="8.8" font-weight="400" text-anchor="middle" fill="#111" stroke="#111" stroke-width="0.3" >1</text>
<text x="246.9" y="434.2" font-size="8.8" font-weight="400" text-anchor="middle" fill="#111" stroke="#111" stroke-width="0.3" >2</text>
<text x="259.4" y="434.2" font-size="8.8" font-weight="400" text-anchor="middle" fill="#111" stroke="#111" stroke-width="0.3" >3</text>
<text x="214.8" y="444.5" font-size="7.9" font-weight="400" text-anchor="middle" fill="#111" stroke="#111" stroke-width="0.3" >180</text>
<line x1="223.8" y1="441.4" x2="228.9" y2="441.4" stroke="#333" stroke-width="1.1"/>
<text x="214.8" y="455.0" font-size="7.9" font-weight="400" text-anchor="middle" fill="#111" stroke="#111" stroke-width="0.3" >70</text>
<line x1="223.8" y1="451.9" x2="228.9" y2="451.9" stroke="#333" stroke-width="1.1"/>
<text x="214.8" y="464.0" font-size="7.9" font-weight="400" text-anchor="middle" fill="#111" stroke="#111" stroke-width="0.3" >55</text>
<line x1="223.8" y1="460.9" x2="228.9" y2="460.9" stroke="#333" stroke-width="1.1"/>
<text x="214.8" y="472.0" font-size="7.9" font-weight="400" text-anchor="middle" fill="#111" stroke="#111" stroke-width="0.3" >40</text>
<line x1="223.8" y1="468.9" x2="228.9" y2="468.9" stroke="#333" stroke-width="1.1"/>
<text x="214.8" y="483.8" font-size="7.9" font-weight="400" text-anchor="middle" fill="#111" stroke="#111" stroke-width="0.3" >35</text>
<line x1="223.8" y1="480.7" x2="228.9" y2="480.7" stroke="#333" stroke-width="1.1"/>
<text x="214.8" y="494.8" font-size="7.9" font-weight="400" text-anchor="middle" fill="#111" stroke="#111" stroke-width="0.3" >25</text>
<line x1="223.8" y1="491.7" x2="228.9" y2="491.7" stroke="#333" stroke-width="1.1"/>
<text x="214.8" y="521.8000000000001" font-size="7.9" font-weight="400" text-anchor="middle" fill="#111" stroke="#111" stroke-width="0.3" >15</text>
<line x1="223.8" y1="518.7" x2="228.9" y2="518.7" stroke="#333" stroke-width="1.1"/>
<text x="214.8" y="546.7" font-size="7.9" font-weight="400" text-anchor="middle" fill="#111" stroke="#111" stroke-width="0.3" >10</text>
<line x1="223.8" y1="543.6" x2="228.9" y2="543.6" stroke="#333" stroke-width="1.1"/>
<rect x="298.2" y="435.0" width="38.80000000000001" height="111.8" fill="#dbdbdb" stroke="none" stroke-width="1" />
<text x="315.0" y="415.6" font-size="8.8" font-weight="400" text-anchor="middle" fill="#111" stroke="#111" stroke-width="0.3" >K89</text>
<text x="277.6" y="433.5" font-size="8.6" font-weight="400" text-anchor="start" fill="#111" stroke="#111" stroke-width="0.3" >kDa</text>
<text x="303.3" y="434.2" font-size="8.8" font-weight="400" text-anchor="middle" fill="#111" stroke="#111" stroke-width="0.3" >1</text>
<text x="315.8" y="434.2" font-size="8.8" font-weight="400" text-anchor="middle" fill="#111" stroke="#111" stroke-width="0.3" >2</text>
<text x="328.1" y="434.2" font-size="8.8" font-weight="400" text-anchor="middle" fill="#111" stroke="#111" stroke-width="0.3" >3</text>
<text x="285.0" y="444.5" font-size="7.9" font-weight="400" text-anchor="middle" fill="#111" stroke="#111" stroke-width="0.3" >180</text>
<line x1="293.5" y1="441.4" x2="298.2" y2="441.4" stroke="#333" stroke-width="1.1"/>
<text x="285.0" y="455.1" font-size="7.9" font-weight="400" text-anchor="middle" fill="#111" stroke="#111" stroke-width="0.3" >70</text>
<line x1="293.5" y1="452.0" x2="298.2" y2="452.0" stroke="#333" stroke-width="1.1"/>
<text x="285.0" y="464.0" font-size="7.9" font-weight="400" text-anchor="middle" fill="#111" stroke="#111" stroke-width="0.3" >55</text>
<line x1="293.5" y1="460.9" x2="298.2" y2="460.9" stroke="#333" stroke-width="1.1"/>
<text x="285.0" y="472.1" font-size="7.9" font-weight="400" text-anchor="middle" fill="#111" stroke="#111" stroke-width="0.3" >40</text>
<line x1="293.5" y1="469.0" x2="298.2" y2="469.0" stroke="#333" stroke-width="1.1"/>
<text x="285.0" y="483.8" font-size="7.9" font-weight="400" text-anchor="middle" fill="#111" stroke="#111" stroke-width="0.3" >35</text>
<line x1="293.5" y1="480.7" x2="298.2" y2="480.7" stroke="#333" stroke-width="1.1"/>
<text x="285.0" y="494.40000000000003" font-size="7.9" font-weight="400" text-anchor="middle" fill="#111" stroke="#111" stroke-width="0.3" >25</text>
<line x1="293.5" y1="491.3" x2="298.2" y2="491.3" stroke="#333" stroke-width="1.1"/>
<text x="285.0" y="521.2" font-size="7.9" font-weight="400" text-anchor="middle" fill="#111" stroke="#111" stroke-width="0.3" >15</text>
<line x1="293.5" y1="518.1" x2="298.2" y2="518.1" stroke="#333" stroke-width="1.1"/>
<text x="285.0" y="546.7" font-size="7.9" font-weight="400" text-anchor="middle" fill="#111" stroke="#111" stroke-width="0.3" >10</text>
<line x1="293.5" y1="543.6" x2="298.2" y2="543.6" stroke="#333" stroke-width="1.1"/>
<rect x="365.1" y="435.0" width="41.099999999999966" height="111.8" fill="#dbdbdb" stroke="none" stroke-width="1" />
<text x="386.2" y="415.6" font-size="8.8" font-weight="400" text-anchor="middle" fill="#111" stroke="#111" stroke-width="0.3" >K90</text>
<text x="345.8" y="433.5" font-size="8.6" font-weight="400" text-anchor="start" fill="#111" stroke="#111" stroke-width="0.3" >kDa</text>
<text x="371.6" y="434.2" font-size="8.8" font-weight="400" text-anchor="middle" fill="#111" stroke="#111" stroke-width="0.3" >1</text>
<text x="383.6" y="434.2" font-size="8.8" font-weight="400" text-anchor="middle" fill="#111" stroke="#111" stroke-width="0.3" >2</text>
<text x="396.2" y="434.2" font-size="8.8" font-weight="400" text-anchor="middle" fill="#111" stroke="#111" stroke-width="0.3" >3</text>
<text x="353.2" y="445.40000000000003" font-size="7.9" font-weight="400" text-anchor="middle" fill="#111" stroke="#111" stroke-width="0.3" >180</text>
<line x1="362.2" y1="442.3" x2="365.1" y2="442.3" stroke="#333" stroke-width="1.1"/>
<text x="353.2" y="455.6" font-size="7.9" font-weight="400" text-anchor="middle" fill="#111" stroke="#111" stroke-width="0.3" >70</text>
<line x1="362.2" y1="452.5" x2="365.1" y2="452.5" stroke="#333" stroke-width="1.1"/>
<text x="353.2" y="464.70000000000005" font-size="7.9" font-weight="400" text-anchor="middle" fill="#111" stroke="#111" stroke-width="0.3" >55</text>
<line x1="362.2" y1="461.6" x2="365.1" y2="461.6" stroke="#333" stroke-width="1.1"/>
<text x="353.2" y="473.20000000000005" font-size="7.9" font-weight="400" text-anchor="middle" fill="#111" stroke="#111" stroke-width="0.3" >40</text>
<line x1="362.2" y1="470.1" x2="365.1" y2="470.1" stroke="#333" stroke-width="1.1"/>
<text x="353.2" y="483.8" font-size="7.9" font-weight="400" text-anchor="middle" fill="#111" stroke="#111" stroke-width="0.3" >35</text>
<line x1="362.2" y1="480.7" x2="365.1" y2="480.7" stroke="#333" stroke-width="1.1"/>
<text x="353.2" y="495.40000000000003" font-size="7.9" font-weight="400" text-anchor="middle" fill="#111" stroke="#111" stroke-width="0.3" >25</text>
<line x1="362.2" y1="492.3" x2="365.1" y2="492.3" stroke="#333" stroke-width="1.1"/>
<text x="353.2" y="521.2" font-size="7.9" font-weight="400" text-anchor="middle" fill="#111" stroke="#111" stroke-width="0.3" >15</text>
<line x1="362.2" y1="518.1" x2="365.1" y2="518.1" stroke="#333" stroke-width="1.1"/>
<text x="353.2" y="545.6" font-size="7.9" font-weight="400" text-anchor="middle" fill="#111" stroke="#111" stroke-width="0.3" >10</text>
<line x1="362.2" y1="542.5" x2="365.1" y2="542.5" stroke="#333" stroke-width="1.1"/>
<rect x="25.50" y="459.90" width="8.50" height="4.90" rx="2.45" fill="#0a0a0a" fill-opacity="1" filter="url(#b05)"/>
<rect x="26.00" y="465.20" width="7.60" height="2.70" rx="1.35" fill="#0a0a0a" fill-opacity="0.85" filter="url(#b05)"/>
<path d="M47.60 523.80 L47.60 519.40 Q47.60 515.80 51.59 515.80 L55.01 515.80 Q59.00 515.80 59.00 519.40 L59.00 522.80 Q59.00 523.80 57.50 523.80 L49.10 523.80 Z" fill="#0a0a0a" fill-opacity="1" filter="url(#b05)"/>
<rect x="49.80" y="525.80" width="8.00" height="3.20" rx="1.60" fill="#0a0a0a" fill-opacity="0.72" filter="url(#b05)"/>
<rect x="92.90" y="460.60" width="8.50" height="4.50" rx="2.25" fill="#0a0a0a" fill-opacity="1" filter="url(#b05)"/>
<rect x="93.20" y="465.40" width="7.60" height="2.60" rx="1.30" fill="#0a0a0a" fill-opacity="0.85" filter="url(#b05)"/>
<path d="M115.80 524.00 L115.80 518.94 Q115.80 514.80 120.21 514.80 L123.99 514.80 Q128.40 514.80 128.40 518.94 L128.40 523.00 Q128.40 524.00 126.90 524.00 L117.30 524.00 Z" fill="#0a0a0a" fill-opacity="1" filter="url(#b05)"/>
<rect x="118.00" y="526.00" width="8.60" height="3.40" rx="1.70" fill="#0a0a0a" fill-opacity="0.72" filter="url(#b05)"/>
<rect x="93.50" y="520.40" width="6.00" height="1.60" rx="0.80" fill="#0a0a0a" fill-opacity="0.15" filter="url(#b1)"/>
<rect x="93.50" y="485.30" width="6.00" height="1.40" rx="0.70" fill="#0a0a0a" fill-opacity="0.12" filter="url(#b1)"/>
<rect x="119.00" y="461.10" width="5.50" height="1.40" rx="0.70" fill="#0a0a0a" fill-opacity="0.1" filter="url(#b1)"/>
<rect x="119.00" y="482.90" width="5.50" height="1.40" rx="0.70" fill="#0a0a0a" fill-opacity="0.1" filter="url(#b1)"/>
<rect x="161.20" y="460.80" width="9.20" height="5.40" rx="2.70" fill="#0a0a0a" fill-opacity="1" filter="url(#b05)"/>
<rect x="161.40" y="466.40" width="8.80" height="2.40" rx="1.20" fill="#0a0a0a" fill-opacity="0.7" filter="url(#b05)"/>
<rect x="162.00" y="469.60" width="8.00" height="1.60" rx="0.80" fill="#0a0a0a" fill-opacity="0.25" filter="url(#b1)"/>
<rect x="162.00" y="478.00" width="7.80" height="2.20" rx="1.10" fill="#0a0a0a" fill-opacity="0.45" filter="url(#b1)"/>
<rect x="162.00" y="494.40" width="8.00" height="2.20" rx="1.10" fill="#0a0a0a" fill-opacity="0.35" filter="url(#b1)"/>
<rect x="162.50" y="490.00" width="7.00" height="1.60" rx="0.80" fill="#0a0a0a" fill-opacity="0.15" filter="url(#b1)"/>
<path d="M172.80 482.80 L172.80 477.74 Q172.80 473.60 177.00 473.60 L180.60 473.60 Q184.80 473.60 184.80 477.74 L184.80 481.80 Q184.80 482.80 183.30 482.80 L174.30 482.80 Z" fill="#0a0a0a" fill-opacity="1" filter="url(#b05)"/>
<rect x="175.00" y="452.00" width="7.00" height="2.40" rx="1.20" fill="#0a0a0a" fill-opacity="0.5" filter="url(#b1)"/>
<rect x="175.50" y="444.50" width="6.00" height="6.00" rx="3.00" fill="#0a0a0a" fill-opacity="0.18" filter="url(#b1)"/>
<rect x="174.50" y="484.60" width="8.00" height="2.60" rx="1.30" fill="#0a0a0a" fill-opacity="0.25" filter="url(#b1)"/>
<rect x="174.50" y="489.80" width="8.00" height="3.00" rx="1.50" fill="#0a0a0a" fill-opacity="0.3" filter="url(#b1)"/>
<rect x="174.80" y="494.30" width="7.60" height="3.30" rx="1.65" fill="#0a0a0a" fill-opacity="0.75" filter="url(#b05)"/>
<rect x="176.00" y="522.00" width="5.00" height="2.50" rx="1.25" fill="#0a0a0a" fill-opacity="0.15" filter="url(#b1)"/>
<rect x="187.50" y="461.20" width="6.50" height="1.40" rx="0.70" fill="#0a0a0a" fill-opacity="0.1" filter="url(#b1)"/>
<rect x="187.50" y="520.80" width="6.50" height="1.40" rx="0.70" fill="#0a0a0a" fill-opacity="0.12" filter="url(#b1)"/>
<rect x="233.00" y="461.70" width="8.30" height="3.80" rx="1.90" fill="#0a0a0a" fill-opacity="1" filter="url(#b05)"/>
<rect x="233.50" y="467.40" width="7.00" height="1.60" rx="0.80" fill="#0a0a0a" fill-opacity="0.2" filter="url(#b1)"/>
<rect x="242.70" y="477.90" width="9.60" height="4.10" rx="2.05" fill="#0a0a0a" fill-opacity="1" filter="url(#b05)"/>
<rect x="233.50" y="479.20" width="3.00" height="1.80" rx="0.90" fill="#0a0a0a" fill-opacity="0.08" filter="url(#b1)"/>
<rect x="301.20" y="460.60" width="8.90" height="3.80" rx="1.90" fill="#0a0a0a" fill-opacity="1" filter="url(#b05)"/>
<rect x="302.00" y="465.00" width="7.50" height="1.60" rx="0.80" fill="#0a0a0a" fill-opacity="0.15" filter="url(#b1)"/>
<rect x="313.00" y="477.50" width="9.00" height="3.60" rx="1.80" fill="#0a0a0a" fill-opacity="1" filter="url(#b05)"/>
<ellipse cx="333.2" cy="526.6" rx="4.2" ry="1.0" fill="#111" fill-opacity="0.55" filter="url(#b05)"/>
<rect x="367.40" y="463.10" width="9.00" height="3.80" rx="1.90" fill="#0a0a0a" fill-opacity="1" filter="url(#b05)"/>
<rect x="368.00" y="468.00" width="7.50" height="1.60" rx="0.80" fill="#0a0a0a" fill-opacity="0.3" filter="url(#b1)"/>
<rect x="380.00" y="478.60" width="9.50" height="3.80" rx="1.90" fill="#0a0a0a" fill-opacity="1" filter="url(#b05)"/>
<ellipse cx="400.8" cy="526.6" rx="4.6" ry="1.0" fill="#111" fill-opacity="0.55" filter="url(#b05)"/>
<ellipse cx="382.2" cy="441.4" rx="0.8" ry="0.8" fill="#111" fill-opacity="0.8" filter="url(#b05)"/>
<line x1="411.0" y1="464.9" x2="417.4" y2="464.9" stroke="#111" stroke-width="1.9"/>
<path d="M408.3 464.9 L412.6 462.29999999999995 L412.6 467.5 Z" fill="#111"/>
<text x="420.9" y="468.09999999999997" font-size="9.0" font-weight="400" text-anchor="start" fill="#111" stroke="#111" stroke-width="0.3" textLength="25.4" lengthAdjust="spacingAndGlyphs">ZIKV E</text>
<line x1="411.0" y1="480.6" x2="417.4" y2="480.6" stroke="#111" stroke-width="1.9"/>
<path d="M408.3 480.6 L412.6 478.0 L412.6 483.20000000000005 Z" fill="#111"/>
<text x="420.9" y="483.8" font-size="9.0" font-weight="400" text-anchor="start" fill="#111" stroke="#111" stroke-width="0.3" textLength="51.0" lengthAdjust="spacingAndGlyphs">ZIKV ED1+2</text>
<line x1="411.0" y1="526.9" x2="417.4" y2="526.9" stroke="#111" stroke-width="1.9"/>
<path d="M408.3 526.9 L412.6 524.3 L412.6 529.5 Z" fill="#111"/>
<text x="420.9" y="530.1" font-size="9.0" font-weight="400" text-anchor="start" fill="#111" stroke="#111" stroke-width="0.3" textLength="40.8" lengthAdjust="spacingAndGlyphs">ZIKV ED3</text>
</svg>
</body></html>
